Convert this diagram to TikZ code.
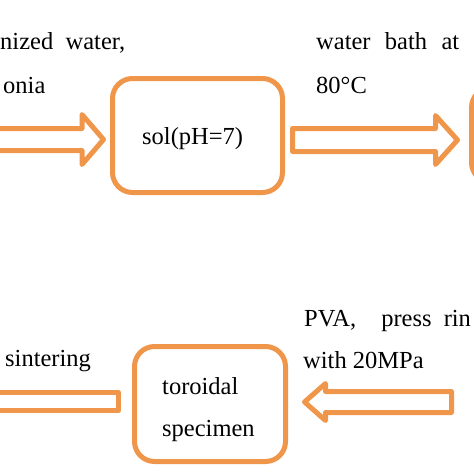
\documentclass[tikz,border=0pt]{standalone}
\usepackage{fontspec}
\setmainfont{Liberation Serif}
\definecolor{flow}{RGB}{240,150,75}
\begin{document}
\begin{tikzpicture}[x=1pt,y=-1pt,
  stagebox/.style={draw=flow,line width=5pt,rounded corners=20pt,rectangle,inner sep=0pt},
  blockarrow/.style={draw=flow,line width=5pt,line join=round,fill=white},
  lbl/.style={anchor=base west,inner sep=0pt,font=\fontsize{24.5}{29}\selectfont}]
\useasboundingbox (0,0) rectangle (474,474);
\clip (0,0) rectangle (474,474);
% boxes
\node[stagebox,minimum width=170pt,minimum height=114pt] (sol) at (197.5,135.5) {};
\node[stagebox,minimum width=170pt,minimum height=95pt] (next) at (556.5,135) {};
\node[stagebox,minimum width=151pt,minimum height=115pt] (toro) at (210,404) {};
% block arrows
\draw[blockarrow] (-20,128.5) -- (82,128.5) -- (82,114.5) -- (103.5,139.5) -- (82,164.5) -- (82,150.5) -- (-20,150.5) -- cycle;
\draw[blockarrow] (292.5,128.5) -- (435.5,128.5) -- (435.5,115.5) -- (457.5,140) -- (435.5,164.5) -- (435.5,151.5) -- (292.5,151.5) -- cycle;
\draw[blockarrow] (451.5,391.5) -- (325.5,391.5) -- (325.5,383.5) -- (304.5,402) -- (325.5,420.5) -- (325.5,412.5) -- (451.5,412.5) -- cycle;
\draw[blockarrow] (118.5,392.5) -- (-20,392.5) -- (-20,410.5) -- (118.5,410.5) -- cycle;
% texts
\node[lbl] (t1) at (0,49) {\makebox[125pt][s]{nized water,}};
\node[lbl] (t2) at (3,93) {onia};
\node[lbl] (t3) at (316,49) {\makebox[143pt][s]{water bath at}};
\node[lbl] (t4) at (316,93) {80°C};
\node[lbl] (t5) at (142,144) {sol(pH=7)};
\node[lbl] (t6) at (304,326) {PVA,\hspace{19pt} press\hspace{6pt} rin};
\node[lbl] (t7) at (303,368) {with 20MPa};
\node[lbl] (t8) at (5,366) {sintering};
\node[lbl] (t9) at (162,394) {toroidal};
\node[lbl] (t10) at (162,436) {specimen};
\end{tikzpicture}
\end{document}
